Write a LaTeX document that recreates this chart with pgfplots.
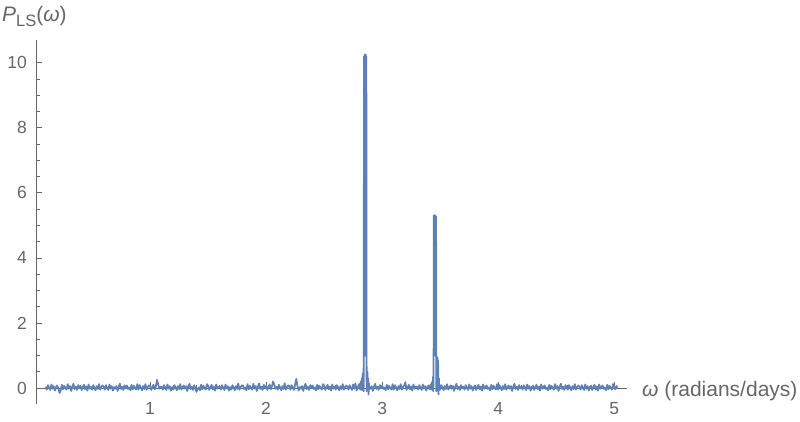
\documentclass[border=0pt]{standalone}
\usepackage{fontspec}
\setmainfont{Liberation Sans}
\usepackage{pgfplots}
\pgfplotsset{compat=1.18}
\definecolor{mblue}{RGB}{94,129,181}
\definecolor{axgray}{RGB}{102,102,102}
\begin{document}
\begin{tikzpicture}
\begin{axis}[
  scale only axis,
  width=591pt, height=364.3pt,
  at={(0,0)}, anchor=south west,
  xmin=0.017, xmax=5.11,
  ymin=-0.5, ymax=10.7,
  axis x line=middle, axis y line=left,
  axis line style={-, axgray, line width=0.8pt},
  every tick/.style={axgray, line width=0.8pt},
  tick align=inside,
  major tick length=6pt, minor tick length=3.5pt,
  xtick={1,2,3,4,5}, ytick={0,2,4,6,8,10},
  minor x tick num=4, minor y tick num=3,
  /pgf/number format/assume math mode=true,
  tick label style={font=\fontsize{17.5}{20}\selectfont, text=axgray},
  xticklabel style={anchor=north, inner sep=0pt, yshift=-14pt},
  yticklabel style={anchor=east, inner sep=0pt, xshift=-9pt},
  clip=false,
]
\addplot[mblue, line width=1.7pt, line join=round] coordinates {
(0.10,0.04)(0.11,-0.05)(0.12,0.09)(0.13,0.01)(0.14,-0.06)(0.15,0.11)(0.16,-0.02)(0.17,0.06)(0.18,-0.08)(0.19,0.03)
(0.20,0.08)(0.21,-0.03)(0.22,-0.15)(0.23,-0.07)(0.24,0.10)(0.25,-0.04)(0.26,0.07)(0.27,0.00)(0.28,-0.05)(0.29,0.12)
(0.30,-0.02)(0.31,0.06)(0.32,-0.09)(0.33,0.05)(0.34,0.13)(0.35,-0.03)(0.36,0.04)(0.37,-0.06)(0.38,0.09)(0.39,-0.01)
(0.40,0.07)(0.41,-0.06)(0.42,0.03)(0.43,0.10)(0.44,-0.04)(0.45,0.05)(0.46,-0.08)(0.47,0.11)(0.48,-0.02)(0.49,0.04)
(0.50,-0.05)(0.51,0.09)(0.52,0.02)(0.53,-0.07)(0.54,0.06)(0.55,-0.03)(0.56,0.12)(0.57,-0.05)(0.58,0.03)(0.59,0.08)
(0.60,0.04)(0.61,-0.05)(0.62,0.09)(0.63,0.01)(0.64,-0.06)(0.65,0.11)(0.66,-0.02)(0.67,0.06)(0.68,-0.08)(0.69,0.03)
(0.70,-0.02)(0.71,0.06)(0.72,-0.09)(0.73,0.05)(0.74,0.13)(0.75,-0.03)(0.76,0.04)(0.77,-0.06)(0.78,0.09)(0.79,-0.01)
(0.80,0.08)(0.81,-0.03)(0.82,0.02)(0.83,-0.07)(0.84,0.10)(0.85,-0.04)(0.86,0.07)(0.87,0.00)(0.88,-0.05)(0.89,0.12)
(0.90,-0.05)(0.91,0.09)(0.92,0.02)(0.93,-0.07)(0.94,0.06)(0.95,-0.03)(0.96,0.12)(0.97,-0.05)(0.98,0.03)(0.99,0.08)
(1.00,0.07)(1.01,-0.06)(1.02,0.03)(1.03,0.10)(1.04,-0.04)(1.05,0.05)(1.06,0.25)(1.07,0.11)(1.08,-0.02)(1.09,0.04)
(1.10,0.04)(1.11,-0.05)(1.12,0.09)(1.13,0.01)(1.14,-0.06)(1.15,0.11)(1.16,-0.02)(1.17,0.06)(1.18,-0.08)(1.19,0.03)
(1.20,-0.05)(1.21,0.09)(1.22,0.02)(1.23,-0.07)(1.24,0.06)(1.25,-0.03)(1.26,0.12)(1.27,-0.05)(1.28,0.03)(1.29,0.08)
(1.30,-0.02)(1.31,0.06)(1.32,-0.09)(1.33,0.05)(1.34,0.13)(1.35,-0.03)(1.36,0.04)(1.37,-0.06)(1.38,0.09)(1.39,-0.01)
(1.40,-0.12)(1.41,-0.03)(1.42,0.02)(1.43,-0.07)(1.44,0.10)(1.45,-0.04)(1.46,0.07)(1.47,0.00)(1.48,-0.05)(1.49,0.12)
(1.50,0.07)(1.51,-0.06)(1.52,0.03)(1.53,0.10)(1.54,-0.04)(1.55,0.05)(1.56,-0.08)(1.57,0.11)(1.58,-0.02)(1.59,0.04)
(1.60,0.04)(1.61,-0.05)(1.62,0.09)(1.63,0.01)(1.64,-0.06)(1.65,0.11)(1.66,-0.02)(1.67,0.06)(1.68,-0.08)(1.69,0.03)
(1.70,-0.05)(1.71,0.09)(1.72,0.02)(1.73,-0.07)(1.74,0.06)(1.75,-0.03)(1.76,0.14)(1.77,-0.05)(1.78,0.03)(1.79,0.08)
(1.80,0.08)(1.81,-0.03)(1.82,0.02)(1.83,-0.07)(1.84,0.12)(1.85,-0.04)(1.86,0.07)(1.87,0.00)(1.88,-0.05)(1.89,0.13)
(1.90,-0.02)(1.91,0.06)(1.92,-0.09)(1.93,0.05)(1.94,0.14)(1.95,-0.03)(1.96,0.04)(1.97,-0.06)(1.98,0.10)(1.99,-0.01)
(2.00,0.07)(2.01,-0.06)(2.02,0.03)(2.03,0.11)(2.04,-0.04)(2.05,0.05)(2.06,0.20)(2.07,0.11)(2.08,-0.02)(2.09,0.04)
(2.10,-0.05)(2.11,0.10)(2.12,0.02)(2.13,-0.07)(2.14,0.06)(2.15,-0.03)(2.16,0.15)(2.17,-0.05)(2.18,0.03)(2.19,0.08)
(2.20,0.04)(2.21,-0.05)(2.22,0.09)(2.23,0.01)(2.24,-0.06)(2.25,0.11)(2.26,0.28)(2.27,0.06)(2.28,-0.08)(2.29,0.03)
(2.30,-0.02)(2.31,0.06)(2.32,-0.09)(2.33,0.05)(2.34,0.13)(2.35,-0.03)(2.36,0.04)(2.37,-0.06)(2.38,0.09)(2.39,-0.01)
(2.40,0.08)(2.41,-0.03)(2.42,0.02)(2.43,-0.07)(2.44,0.10)(2.45,-0.04)(2.46,0.07)(2.47,0.00)(2.48,-0.05)(2.49,0.12)
(2.50,0.07)(2.51,-0.06)(2.52,0.03)(2.53,0.10)(2.54,-0.04)(2.55,0.05)(2.56,-0.08)(2.57,0.11)(2.58,-0.02)(2.59,0.04)
(2.60,-0.05)(2.61,0.09)(2.62,0.02)(2.63,-0.07)(2.64,0.06)(2.65,-0.03)(2.66,0.12)(2.67,-0.05)(2.68,0.03)(2.69,0.08)
(2.70,0.04)(2.71,-0.05)(2.72,0.09)(2.73,0.01)(2.74,-0.06)(2.75,0.11)(2.76,-0.02)(2.77,0.14)(2.78,-0.08)(2.79,0.03)
(2.80,0.12)(2.81,-0.04)(2.815,0.2)(2.82,-0.06)(2.824,0.3)(2.828,-0.05)(2.832,0.45)(2.836,-0.08)(2.839,0.6)(2.841,-0.1)
(2.843,10.2)(2.846,10.2)(2.846,1)(2.849,1)(2.849,10.25)(2.852,10.25)(2.852,1)(2.855,1)(2.855,10.25)(2.858,10.25)(2.858,1)(2.861,1)(2.861,10.2)(2.864,10.2)
(2.866,-0.1)(2.868,0.65)(2.871,-0.08)(2.874,0.5)(2.877,-0.05)(2.880,0.3)(2.883,-0.2)(2.886,0.15)(2.89,-0.03)
(2.90,-0.02)(2.91,0.06)(2.92,-0.09)(2.93,0.05)(2.94,0.13)(2.95,-0.03)(2.96,0.04)(2.97,-0.06)(2.98,0.09)(2.99,-0.01)
(3.00,0.08)(3.01,-0.03)(3.02,0.02)(3.03,-0.07)(3.04,0.10)(3.05,-0.04)(3.06,0.07)(3.07,0.00)(3.08,-0.05)(3.09,0.12)
(3.10,-0.05)(3.11,0.09)(3.12,0.02)(3.13,-0.07)(3.14,0.06)(3.15,-0.03)(3.16,0.12)(3.17,-0.05)(3.18,0.03)(3.19,0.08)
(3.20,0.18)(3.21,-0.06)(3.22,0.03)(3.23,0.10)(3.24,-0.04)(3.25,0.05)(3.26,-0.08)(3.27,0.11)(3.28,-0.02)(3.29,0.04)
(3.30,0.04)(3.31,-0.05)(3.32,0.09)(3.33,0.01)(3.34,-0.06)(3.35,0.11)(3.36,-0.02)(3.37,0.06)(3.38,-0.08)(3.39,0.03)
(3.40,0.08)(3.41,-0.04)(3.42,0.12)(3.426,-0.05)(3.43,0.18)(3.434,-0.06)(3.438,0.35)(3.441,-0.1)(3.443,0.45)
(3.445,5.31)(3.448,5.31)(3.448,1)(3.451,1)(3.451,5.31)(3.454,5.31)(3.454,1)(3.457,1)(3.457,5.3)(3.460,5.3)(3.460,1)(3.463,1)(3.463,5.28)(3.465,5.28)
(3.467,-0.1)(3.470,0.9)(3.473,-0.08)(3.476,0.95)(3.479,-0.05)(3.482,0.85)(3.485,-0.2)(3.489,0.3)(3.493,-0.05)
(3.50,-0.05)(3.51,0.09)(3.52,0.02)(3.53,-0.07)(3.54,0.06)(3.55,-0.03)(3.56,0.12)(3.57,-0.05)(3.58,0.03)(3.59,0.08)
(3.60,-0.02)(3.61,0.06)(3.62,-0.09)(3.63,0.05)(3.64,0.13)(3.65,-0.03)(3.66,0.04)(3.67,-0.06)(3.68,0.09)(3.69,-0.01)
(3.70,0.04)(3.71,-0.05)(3.72,0.09)(3.73,0.01)(3.74,-0.06)(3.75,0.11)(3.76,-0.02)(3.77,0.06)(3.78,-0.08)(3.79,0.03)
(3.80,0.07)(3.81,-0.06)(3.82,0.03)(3.83,0.10)(3.84,-0.04)(3.85,0.05)(3.86,-0.08)(3.87,0.11)(3.88,-0.02)(3.89,0.04)
(3.90,0.08)(3.91,-0.03)(3.92,0.02)(3.93,-0.07)(3.94,0.10)(3.95,-0.04)(3.96,0.07)(3.97,0.00)(3.98,-0.05)(3.99,0.12)
(4.00,-0.05)(4.01,0.09)(4.02,0.02)(4.03,-0.07)(4.04,0.06)(4.05,-0.03)(4.06,0.12)(4.07,-0.05)(4.08,0.03)(4.09,0.08)
(4.10,-0.02)(4.11,0.06)(4.12,-0.09)(4.13,0.05)(4.14,0.13)(4.15,-0.03)(4.16,0.04)(4.17,-0.06)(4.18,0.09)(4.19,-0.01)
(4.20,0.04)(4.21,-0.05)(4.22,0.09)(4.23,0.01)(4.24,-0.06)(4.25,0.11)(4.26,-0.02)(4.27,0.06)(4.28,-0.08)(4.29,0.03)
(4.30,0.07)(4.31,-0.06)(4.32,0.03)(4.33,0.10)(4.34,-0.04)(4.35,0.05)(4.36,-0.08)(4.37,0.11)(4.38,-0.02)(4.39,0.04)
(4.40,0.08)(4.41,-0.03)(4.42,0.02)(4.43,-0.07)(4.44,0.10)(4.45,-0.04)(4.46,0.07)(4.47,0.00)(4.48,-0.05)(4.49,0.12)
(4.50,-0.02)(4.51,0.06)(4.52,-0.09)(4.53,0.05)(4.54,0.13)(4.55,-0.03)(4.56,0.04)(4.57,-0.06)(4.58,0.09)(4.59,-0.01)
(4.60,-0.05)(4.61,0.09)(4.62,0.02)(4.63,-0.07)(4.64,0.06)(4.65,-0.03)(4.66,0.12)(4.67,-0.05)(4.68,0.03)(4.69,0.08)
(4.70,0.04)(4.71,-0.05)(4.72,0.09)(4.73,0.01)(4.74,-0.06)(4.75,0.11)(4.76,-0.02)(4.77,0.06)(4.78,-0.08)(4.79,0.03)
(4.80,0.07)(4.81,-0.06)(4.82,0.03)(4.83,0.10)(4.84,-0.04)(4.85,0.05)(4.86,-0.08)(4.87,0.11)(4.88,-0.02)(4.89,0.04)
(4.90,0.08)(4.91,-0.03)(4.92,0.02)(4.93,-0.07)(4.94,0.10)(4.95,-0.04)(4.96,0.07)(4.97,0.00)(4.98,-0.05)(4.99,0.12)
(5.00,0.05)(5.01,-0.04)(5.02,0.06)(5.03,0.02)
};
\node[anchor=base west, inner sep=0pt, text=axgray, font=\fontsize{21}{23}\selectfont]
  at (axis cs:5.11,0) [xshift=15pt, yshift=-8.5pt] {\textit{ω} (radians/days)};
\end{axis}
\node[anchor=base west, inner sep=0pt, text=axgray, font=\fontsize{21}{23}\selectfont]
  at (-34pt,383pt) {\textit{P}\raisebox{-5pt}{\fontsize{16.5}{17}\selectfont LS}(\textit{ω})};
\pgfresetboundingbox
\path[use as bounding box] (-36pt,-17.7pt) rectangle (764pt,404.3pt);
\end{tikzpicture}
\end{document}
